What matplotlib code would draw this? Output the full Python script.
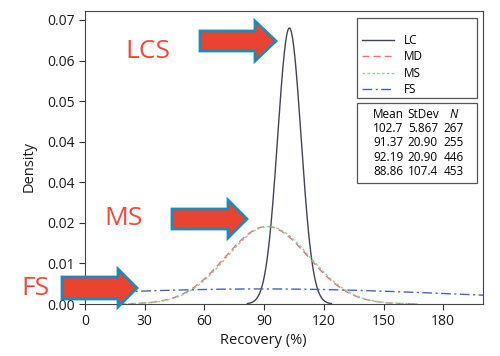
import numpy as np
import matplotlib.pyplot as plt
from matplotlib.patches import Polygon, Rectangle
from matplotlib.transforms import Affine2D

plt.rcParams['font.family'] = ['Open Sans', 'DejaVu Sans']

names = ["LC", "MD", "MS", "FS"]
means = [102.7, 91.37, 92.19, 88.86]
stdevs = [5.867, 20.90, 20.90, 107.4]
counts = [267, 255, 446, 453]
mean_txt = ["102.7", "91.37", "92.19", "88.86"]
sd_txt = ["5.867", "20.90", "20.90", "107.4"]

yticks = [0.00, 0.01, 0.02, 0.03, 0.04, 0.05, 0.06, 0.07]
ytick_labels = ["0.00", "0.01", "0.02", "0.04", "0.04", "0.05", "0.06", "0.07"]
xticks = [0, 30, 60, 90, 120, 150, 180]

colors = ["#3d4452", "#e8707c", "#8fd39a", "#4a63b0"]
styles = ["-", (0, (5, 3)), (0, (2, 1.5)), (0, (7, 2.5, 1.5, 2.5))]

W, H = 500, 356
fig = plt.figure(figsize=(W / 100, H / 100), dpi=100)
ax = fig.add_axes([85 / W, 1 - 304 / H, 398 / W, 293 / H])

# fitted normal curves from the listed parameters
for nm, m, s, c, ls in zip(names, means, stdevs, colors, styles):
    x = np.linspace(max(0, m - 3.6 * s), min(200, m + 3.6 * s), 600)
    y = np.exp(-0.5 * ((x - m) / s) ** 2) / (s * np.sqrt(2 * np.pi))
    ax.plot(x, y, color=c, ls=ls, lw=1.0, label=nm)

ax.set_xlim(0, 200)
ax.set_ylim(0, 0.0722)
ax.set_xticks(xticks)
ax.set_yticks(yticks)
ax.set_yticklabels(ytick_labels)
ax.tick_params(labelsize=10, length=4, width=0.8, color="#333333", labelcolor="#1a1a1a")
for sp in ax.spines.values():
    sp.set_color("#444444")
    sp.set_linewidth(0.8)

ax.set_xlabel("Recovery (%)", fontsize=10.5, color="#1a1a1a")
ax.xaxis.set_label_coords((263 - 85) / 398, -(333 - 304) / 293)
ax.set_ylabel("Density", fontsize=10.5, color="#1a1a1a")
ax.yaxis.set_label_coords(-(85 - 37) / 398, (304 - 167) / 293)

# pixel coordinates, y down
px = Affine2D().scale(1 / W, -1 / H).translate(0, 1) + fig.transFigure

leg = ax.legend(loc="upper left", bbox_to_anchor=(357 / W, 1 - 98 / H, 120 / W, 80 / H),
                bbox_transform=fig.transFigure, mode="expand", title=" ",
                fontsize=8.5, title_fontsize=5, handlelength=2.7, handletextpad=0.8,
                labelspacing=0.3, borderaxespad=0, borderpad=0.45, frameon=False)
fig.patches.append(Rectangle((357, 18), 120, 80, transform=px, fill=False,
                             ec="#555555", lw=0.9, zorder=5))

fig.patches.append(Rectangle((357, 103), 120, 80, transform=px, fill=False,
                             ec="#555555", lw=0.9, zorder=5))
cols_x = [388, 423, 454]
fs_tab = 8.5
fig.text(cols_x[0], 114, "Mean", transform=px, ha="center", va="center", fontsize=fs_tab)
fig.text(cols_x[1], 114, "StDev", transform=px, ha="center", va="center", fontsize=fs_tab)
fig.text(cols_x[2], 114, "N", transform=px, ha="center", va="center", fontsize=fs_tab,
         style="italic")
for i in range(len(names)):
    yy = 128 + i * 14.6
    fig.text(cols_x[0], yy, mean_txt[i], transform=px, ha="center", va="center",
             fontsize=fs_tab)
    fig.text(cols_x[1], yy, sd_txt[i], transform=px, ha="center", va="center",
             fontsize=fs_tab)
    fig.text(cols_x[2], yy, str(counts[i]), transform=px, ha="center", va="center",
             fontsize=fs_tab)


def block_arrow(x0, xh, xt, yc, bh, hh):
    pts = [(x0, yc - bh), (xh, yc - bh), (xh, yc - hh), (xt, yc),
           (xh, yc + hh), (xh, yc + bh), (x0, yc + bh)]
    fig.patches.append(Polygon(pts, closed=True, transform=px, fc="#ea4430",
                               ec="#1f89b9", lw=2, zorder=6))


block_arrow(200, 255, 276, 41, 10, 20)
block_arrow(172, 228, 247, 219, 10, 19)
block_arrow(62, 118, 137, 288, 11, 19)

red = "#ef4a3c"
fig.text(148, 58, "LCS", transform=px, ha="center", va="baseline", fontsize=19, color=red)
fig.text(124, 225, "MS", transform=px, ha="center", va="baseline", fontsize=19, color=red)
fig.text(35, 295, "FS", transform=px, ha="center", va="baseline", fontsize=19, color=red)

fig.savefig("out.png", dpi=100)
